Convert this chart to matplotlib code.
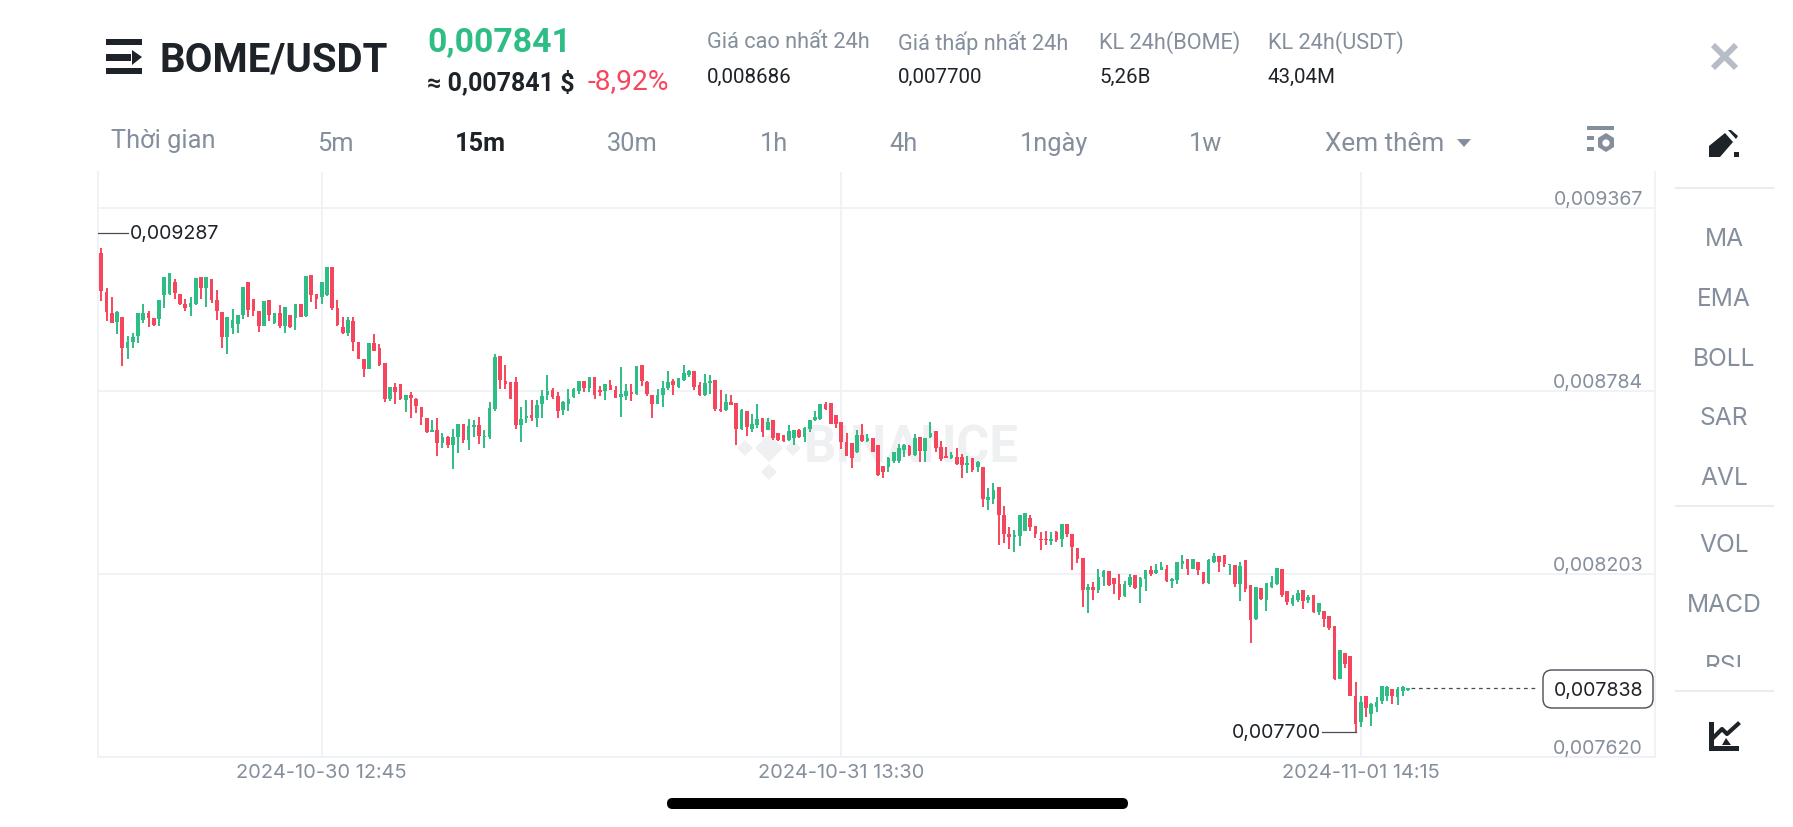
import matplotlib
matplotlib.use("Agg")
import matplotlib.pyplot as plt
from matplotlib.patches import Circle, FancyBboxPatch, Polygon, Rectangle
from matplotlib.ticker import FixedFormatter, FixedLocator

# ── data: 15m candles, prices in millionths of a USDT ──
HIGH = [
    9239,9111,9085,9040,9021,8959,8968,9032,9060,9039,
    9018,9074,9146,9159,9141,9093,9079,9083,9143,9148,
    9146,9140,9106,9036,9019,9047,9027,9117,9133,9076,
    9040,9072,9073,9034,9057,9051,9028,9062,9063,9151,
    9153,9093,9130,9178,9178,9074,9019,9019,9019,8941,
    8888,8938,8965,8934,8875,8797,8811,8808,8773,8780,
    8763,8735,8699,8694,8700,8651,8640,8665,8681,8681,
    8697,8691,8702,8659,8749,8902,8897,8869,8813,8830,
    8734,8755,8755,8755,8789,8837,8795,8780,8753,8791,
    8795,8818,8818,8829,8830,8802,8808,8821,8802,8861,
    8806,8806,8865,8869,8818,8772,8791,8817,8848,8824,
    8825,8869,8852,8847,8813,8840,8837,8819,8788,8776,
    8772,8745,8729,8722,8713,8742,8700,8698,8692,8650,
    8644,8678,8662,8663,8669,8694,8721,8743,8751,8745,
    8709,8687,8650,8618,8660,8679,8647,8634,8612,8546,
    8575,8592,8615,8615,8612,8647,8637,8634,8685,8658,
    8625,8607,8592,8602,8585,8577,8573,8562,8542,8476,
    8493,8479,8418,8352,8342,8391,8395,8389,8356,8337,
    8339,8335,8338,8363,8362,8329,8286,8252,8172,8178,
    8217,8214,8212,8189,8202,8180,8202,8198,8193,8214,
    8228,8235,8239,8231,8190,8239,8264,8251,8251,8241,
    8209,8250,8270,8259,8264,8235,8232,8239,8248,8168,
    8160,8157,8174,8197,8223,8219,8148,8136,8152,8150,
    8136,8136,8110,8086,8068,8036,7961,7952,7942,7860,
    7814,7813,7792,7812,7846,7846,7835,7844,7846,7841,
]
LOW = [
    9071,9008,9000,8965,8864,8885,8920,8938,9002,8989,
    8991,8993,9050,9089,9077,9057,9040,9024,9057,9077,
    9053,9066,9010,8921,8901,8967,8968,9015,9021,9024,
    8974,8991,9008,8998,8984,8970,8984,8979,9019,9021,
    9069,9045,9063,9087,9044,8991,8966,8959,8913,8886,
    8828,8854,8911,8864,8750,8753,8744,8755,8719,8700,
    8716,8677,8651,8653,8578,8604,8604,8537,8588,8619,
    8598,8638,8617,8603,8633,8720,8792,8791,8758,8664,
    8622,8683,8688,8669,8698,8757,8760,8700,8708,8720,
    8762,8774,8782,8782,8759,8770,8756,8787,8762,8702,
    8757,8752,8771,8802,8770,8699,8742,8734,8789,8773,
    8795,8817,8829,8788,8770,8770,8776,8721,8719,8721,
    8739,8612,8662,8642,8655,8668,8639,8660,8630,8626,
    8622,8626,8612,8634,8622,8655,8690,8694,8724,8681,
    8666,8600,8577,8540,8586,8623,8623,8590,8514,8507,
    8526,8557,8557,8575,8579,8577,8559,8559,8634,8590,
    8562,8572,8568,8549,8508,8524,8527,8527,8414,8407,
    8424,8296,8300,8282,8271,8291,8338,8339,8318,8280,
    8295,8295,8305,8288,8320,8214,8237,8097,8078,8121,
    8142,8165,8165,8140,8119,8129,8161,8156,8111,8148,
    8197,8201,8215,8177,8159,8172,8217,8199,8217,8198,
    8172,8172,8237,8209,8226,8200,8160,8115,8146,7983,
    8056,8120,8084,8158,8168,8128,8104,8100,8113,8091,
    8109,8079,8071,8033,8025,7865,7867,7903,7814,7700,
    7714,7746,7719,7763,7789,7799,7789,7787,7815,7829,
]
OPEN = [
    9223,9101,9034,9005,9021,8920,8941,8959,9010,9032,
    9016,9014,9090,9093,9130,9093,9063,9051,9063,9148,
    9111,9140,9074,9036,8957,8984,8998,9026,9133,9076,
    9040,8993,9073,9000,9032,8991,9028,9016,9063,9023,
    9153,9093,9083,9090,9178,9048,8989,8968,9008,8941,
    8888,8856,8938,8923,8875,8758,8797,8808,8757,8771,
    8760,8735,8699,8653,8662,8619,8638,8612,8638,8681,
    8630,8670,8678,8638,8638,8728,8897,8816,8813,8813,
    8675,8698,8707,8700,8742,8771,8787,8768,8723,8744,
    8766,8785,8818,8795,8830,8787,8785,8803,8787,8766,
    8769,8782,8774,8869,8813,8772,8744,8771,8795,8816,
    8797,8819,8835,8847,8803,8772,8809,8819,8729,8724,
    8750,8745,8665,8722,8665,8676,8700,8662,8692,8650,
    8644,8630,8634,8660,8637,8665,8692,8697,8742,8745,
    8709,8687,8623,8618,8591,8644,8626,8634,8612,8546,
    8543,8561,8561,8596,8610,8580,8637,8594,8637,8658,
    8605,8577,8573,8575,8575,8549,8573,8543,8542,8439,
    8442,8479,8389,8331,8320,8322,8338,8379,8356,8315,
    8315,8308,8336,8315,8362,8329,8286,8252,8153,8161,
    8150,8193,8212,8189,8172,8131,8166,8198,8161,8188,
    8214,8206,8216,8219,8180,8184,8235,8251,8219,8241,
    8209,8174,8241,8259,8264,8231,8232,8172,8248,8168,
    8059,8157,8120,8162,8171,8219,8148,8107,8120,8150,
    8120,8134,8081,8086,8068,8036,7868,7952,7942,7815,
    7730,7813,7757,7778,7799,7815,7835,7810,7831,7834,
]
CLOSE = [
    9103,9037,9002,9037,8920,8941,8957,9032,9032,9016,
    8994,9074,9146,9159,9095,9063,9048,9066,9143,9111,
    9146,9074,9040,8957,9019,9010,9027,9117,9042,9040,
    8993,9072,9026,9032,8991,9051,8987,9062,9021,9151,
    9090,9079,9130,9178,9048,8994,8968,9010,8941,8888,
    8856,8938,8913,8867,8760,8797,8782,8758,8771,8762,
    8736,8702,8653,8659,8619,8638,8612,8638,8681,8630,
    8672,8677,8640,8643,8731,8893,8819,8808,8760,8675,
    8697,8704,8698,8739,8769,8785,8766,8720,8750,8760,
    8791,8818,8795,8829,8771,8782,8808,8789,8762,8774,
    8785,8774,8865,8816,8774,8744,8771,8795,8813,8803,
    8825,8843,8849,8798,8772,8809,8816,8727,8722,8750,
    8740,8665,8724,8671,8679,8697,8655,8687,8634,8630,
    8624,8658,8660,8637,8666,8692,8703,8742,8726,8681,
    8681,8623,8579,8570,8644,8626,8634,8592,8517,8527,
    8570,8591,8602,8612,8580,8636,8594,8634,8652,8604,
    8567,8573,8580,8551,8549,8554,8533,8559,8442,8446,
    8471,8389,8331,8320,8326,8391,8395,8352,8331,8310,
    8312,8315,8310,8363,8331,8288,8251,8153,8161,8153,
    8193,8212,8166,8170,8129,8170,8193,8158,8191,8214,
    8201,8216,8225,8180,8188,8239,8244,8217,8251,8214,
    8174,8246,8260,8241,8235,8233,8172,8228,8156,8057,
    8160,8122,8174,8176,8223,8137,8113,8126,8141,8118,
    8128,8081,8110,8059,8031,7868,7961,7916,7815,7725,
    7794,7776,7789,7794,7846,7842,7815,7836,7844,7839,
]
Y_TICKS = [9367, 8784, 8203, 7620]
Y_LABELS = ["0,009367", "0,008784", "0,008203", "0,007620"]
X_TICKS = [42, 141, 240]
X_LABELS = ["2024-10-30 12:45", "2024-10-31 13:30", "2024-11-01 14:15"]
HIGH_MARK = 9287
LOW_MARK, LOW_IDX = 7700, 239
LAST_PRICE = 7838

INTERVALS = ["5m", "15m", "30m", "1h", "4h", "1ngày", "1w"]
INDICATORS = ["MA", "EMA", "BOLL", "SAR", "AVL", "VOL", "MACD"]
STATS = [("Giá cao nhất 24h", "0,008686"), ("Giá thấp nhất 24h", "0,007700"),
         ("KL 24h(BOME)", "5,26B"), ("KL 24h(USDT)", "43,04M")]

GREEN, RED = "#2ebd85", "#f6465d"
DARK, GRAY, GRID = "#1e2329", "#848e9c", "#eef0f3"
W, H = 1793, 828


def add_icons(ui):
    # pair logo
    for y0, y1, x1 in [(40, 46, 142), (55, 62, 131), (69, 75, 142)]:
        ui.add_patch(Rectangle((106, y0), x1 - 106, y1 - y0, color=DARK, lw=0))
    ui.add_patch(Polygon([(132, 51), (142, 58), (132, 66)], color=DARK, lw=0))
    # close cross
    ui.plot([1713, 1736], [46, 69], color="#b7bdc6", lw=4.2, solid_capstyle="butt")
    ui.plot([1736, 1713], [46, 69], color="#b7bdc6", lw=4.2, solid_capstyle="butt")
    # dropdown arrow
    ui.add_patch(Polygon([(1457, 140), (1471, 140), (1464, 148)], color=GRAY, lw=0))
    # chart settings
    ui.add_patch(Rectangle((1587, 127), 27, 4, color=GRAY, lw=0))
    ui.add_patch(Rectangle((1587, 137), 7, 4, color=GRAY, lw=0))
    ui.add_patch(Rectangle((1587, 148), 7, 4, color=GRAY, lw=0))
    ui.add_patch(Polygon([(1606, 134), (1614, 139), (1614, 148), (1606, 153),
                          (1598, 148), (1598, 139)], color=GRAY, lw=0))
    ui.add_patch(Circle((1606, 144), 3.6, color="white", lw=0))
    # pen
    ui.add_patch(Polygon([(1709, 158), (1709, 147), (1725, 134), (1733, 143),
                          (1720, 158)], color=DARK, lw=0))
    ui.add_patch(Polygon([(1728, 131), (1731, 131), (1738, 137), (1736, 140)], color=DARK, lw=0))
    ui.add_patch(Rectangle((1734, 153), 5, 5, color=DARK, lw=0))
    # drawing tools
    ui.add_patch(Rectangle((1709, 723), 5, 29, color=DARK, lw=0))
    ui.add_patch(Rectangle((1709, 747), 30, 5, color=DARK, lw=0))
    ui.plot([1714, 1722, 1727, 1738], [738, 730, 735, 725], color=DARK, lw=3)
    ui.add_patch(Polygon([(1722, 746), (1731, 746), (1726, 739)], color=DARK, lw=0))


def add_watermark(ui):
    mark = "#eff0f1"
    for cx, cy, r in [(769, 449, 14), (745, 449, 8), (793, 449, 8), (769, 425, 8), (769, 473, 8)]:
        ui.add_patch(Polygon([(cx, cy - r), (cx + r, cy), (cx, cy + r), (cx - r, cy)],
                             color=mark, lw=0))
    ui.text(804, 449, "BINANCE", color=mark, fontsize=36.5, fontweight="bold",
            family="Roboto", va="center", ha="left")


def main():
    fig = plt.figure(figsize=(W / 100, H / 100), dpi=100, facecolor="white")

    # full-figure pixel layer for header and side panel
    ui = fig.add_axes([0, 0, 1, 1], zorder=0)
    ui.axis("off")

    ui.text(160, 60, "BOME/USDT", color=DARK, fontsize=29, fontweight="bold",
            family="Roboto", va="center")
    ui.text(427, 43, "0,007841", color=GREEN, fontsize=24.3, fontweight="bold",
            family="Roboto", va="center")
    ui.text(427, 82, "≈ 0,007841 $", color=DARK, fontsize=18, fontweight="bold",
            family="Roboto", va="center")
    ui.text(587, 82, "-8,92%", color=RED, fontsize=20.3, family="Roboto", va="center")

    for (title, value), x in zip(STATS, [707, 898, 1099, 1268]):
        ui.text(x, 43, title, color=GRAY, fontsize=15.7, family="Roboto", va="center")
        ui.text(x, 77, value, color=DARK, fontsize=14.8, family="Roboto", va="center")

    ui.text(111, 141, "Thời gian", color=GRAY, fontsize=18.3, family="Roboto", va="center")
    for name, x in zip(INTERVALS, [335, 480, 632, 774, 904, 1054, 1206]):
        active = name == "15m"
        ui.text(x, 144, name, color=DARK if active else GRAY, fontsize=18.3,
                fontweight="bold" if active else "normal", family="Roboto",
                va="center", ha="center")
    ui.text(1325, 144, "Xem thêm", color=GRAY, fontsize=18.8, family="Roboto", va="center")

    for name, y in zip(INDICATORS, [240, 300, 360, 419, 479, 546, 606]):
        ui.text(1724, y, name, color=GRAY, fontsize=17.7, family="Inter", va="center", ha="center")
    rsi = ui.text(1724, 667, "RSI", color=GRAY, fontsize=17.7, family="Inter", va="center",
                  ha="center", clip_on=True)
    rsi.set_clip_path(Rectangle((1670, 640), 110, 28, transform=ui.transData))
    for y in [189, 507, 692]:
        ui.plot([1676, 1773], [y, y], color="#eaecef", lw=1.5)

    add_icons(ui)
    add_watermark(ui)
    ui.add_patch(FancyBboxPatch((667, 799), 461, 11, boxstyle="round,pad=0,rounding_size=5.5",
                                color="black", lw=0))
    ui.set_xlim(0, W)
    ui.set_ylim(H, 0)

    # candle chart
    left, right, top, bottom = 98, 1655, 173, 758
    ax = fig.add_axes([left / W, 1 - bottom / H, (right - left) / W, (bottom - top) / H],
                      zorder=1, facecolor="none")
    ax.set_xlim(-0.63, 296.06)
    ax.set_ylim(7620, 9481.6)

    idx = list(range(len(CLOSE)))
    colors = [GREEN if c >= o else RED for o, c in zip(OPEN, CLOSE)]
    ax.vlines(idx, LOW, HIGH, colors=colors, lw=1.4, zorder=3)
    tops = [max(o, c) for o, c in zip(OPEN, CLOSE)]
    bots = [min(o, c) for o, c in zip(OPEN, CLOSE)]
    ax.bar(idx, [t - b for t, b in zip(tops, bots)], bottom=bots, width=0.7,
           color=colors, lw=0, zorder=3)

    ax.yaxis.set_major_locator(FixedLocator(Y_TICKS))
    ax.xaxis.set_major_locator(FixedLocator(X_TICKS))
    ax.xaxis.set_major_formatter(FixedFormatter(X_LABELS))
    ax.yaxis.set_major_formatter(FixedFormatter([""] * len(Y_TICKS)))
    ax.grid(True, color=GRID, lw=1.2)
    ax.set_axisbelow(True)
    ax.tick_params(length=0, colors=GRAY, labelsize=14.4, pad=4)
    for lab in ax.get_xticklabels():
        lab.set_family("Inter")
    for name, sp in ax.spines.items():
        sp.set_color(GRID)
        sp.set_linewidth(1.2)
    ax.spines["top"].set_visible(False)

    ytrans = ax.get_yaxis_transform()
    for val, label in zip(Y_TICKS, Y_LABELS):
        ax.annotate(label, xy=(1, val), xycoords=ytrans, xytext=(-8.6, 6.6), textcoords="offset points",
                    ha="right", va="center", color=GRAY, fontsize=14.1, family="Inter")

    # high / low markers
    ax.plot([-0.63, 5], [HIGH_MARK, HIGH_MARK], color="#474d57", lw=0.9, zorder=4)
    ax.annotate("0,009287", xy=(5, HIGH_MARK), xytext=(2, 0), textcoords="offset points",
                ha="left", va="center", color=DARK, fontsize=14.1, family="Inter")
    ax.plot([LOW_IDX - 6.3, LOW_IDX], [LOW_MARK, LOW_MARK], color="#474d57", lw=0.9, zorder=4)
    ax.annotate("0,007700", xy=(LOW_IDX - 6.3, LOW_MARK), xytext=(-1, 0), textcoords="offset points",
                ha="right", va="center", color=DARK, fontsize=14.1, family="Inter")

    # last price
    ax.plot([idx[-1] + 0.5, 273.4], [LAST_PRICE, LAST_PRICE], color="#474d57", lw=0.9,
            ls=(0, (3, 3)), zorder=2)
    box = FancyBboxPatch((1543, 671), 110, 38, boxstyle="round,pad=0,rounding_size=9",
                         fc="white", ec="#474d57", lw=1, transform=ui.transData, zorder=5,
                         clip_on=False)
    ax.add_patch(box)
    ax.annotate("0,007838", xy=(1, LAST_PRICE), xycoords=ytrans, xytext=(-8.6, -1), textcoords="offset points",
                ha="right", va="center", color=DARK, fontsize=14.1, family="Inter", zorder=6)

    plt.savefig("out.png", dpi=100)
    plt.close()


if __name__ == "__main__":
    main()
